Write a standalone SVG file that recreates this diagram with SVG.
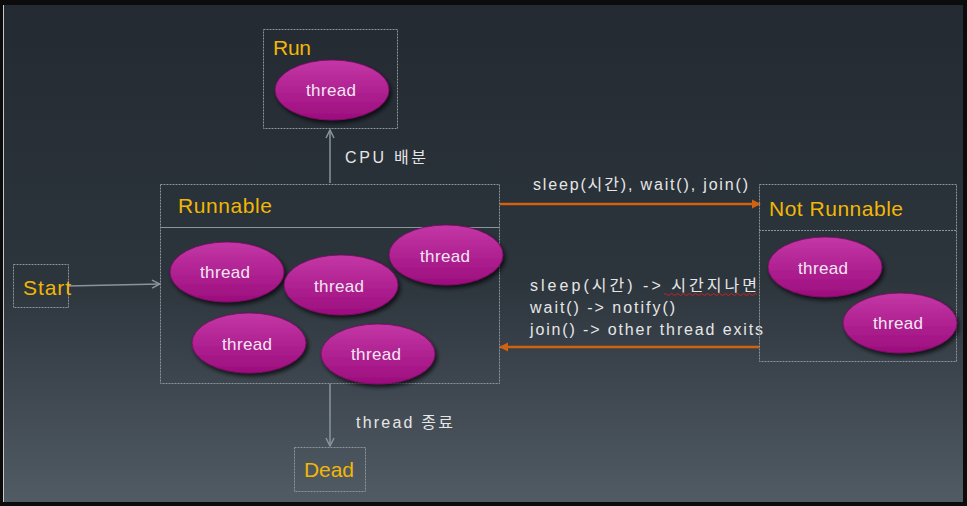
<svg xmlns="http://www.w3.org/2000/svg" width="967" height="506" viewBox="0 0 967 506">
<defs>
<linearGradient id="bg" x1="0" y1="0" x2="0" y2="1">
<stop offset="0" stop-color="#232a32"/>
<stop offset="0.55" stop-color="#2c343c"/>
<stop offset="1" stop-color="#525c65"/>
</linearGradient>
<linearGradient id="ell" x1="0" y1="0" x2="0" y2="1">
<stop offset="0" stop-color="#c437a6"/>
<stop offset="1" stop-color="#9c0d7e"/>
</linearGradient>
<filter id="sh" x="-20%" y="-20%" width="150%" height="160%">
<feGaussianBlur in="SourceAlpha" stdDeviation="2"/>
<feOffset dx="2" dy="3" result="b"/>
<feComponentTransfer><feFuncA type="linear" slope="0.7"/></feComponentTransfer>
<feMerge><feMergeNode/><feMergeNode in="SourceGraphic"/></feMerge>
</filter>
<marker id="ag" viewBox="0 0 10 10" refX="9" refY="5" markerWidth="10" markerHeight="10" markerUnits="userSpaceOnUse" orient="auto">
<path d="M1,1 L9,5 L1,9" fill="none" stroke="#8a949c" stroke-width="1.5"/>
</marker>
<marker id="ao" viewBox="0 0 10 10" refX="9" refY="5" markerWidth="9" markerHeight="10" markerUnits="userSpaceOnUse" orient="auto">
<path d="M0,0 L10,5 L0,10 Z" fill="#d2620f"/>
</marker>
</defs>
<style>
.box{fill:none;stroke:#8d959c;stroke-width:1;stroke-dasharray:2 1}
.div{stroke:#8d959c;stroke-width:1}
.title{font-family:"Liberation Sans","Noto Sans CJK KR",sans-serif;font-size:21px;fill:#f2b705}
.lbl{font-family:"Liberation Sans","Noto Sans CJK KR",sans-serif;font-size:16px;fill:#e6e6e6}
.th{font-family:"Liberation Sans",sans-serif;font-size:17px;fill:#f4e6f2;text-anchor:middle}
.e{fill:url(#ell);stroke:#7a0a62;stroke-width:0.8;filter:url(#sh)}
.cg{stroke:#8a949c;stroke-width:1.5;fill:none}
.co{stroke:#d2620f;stroke-width:2.5;fill:none}
</style>
<rect width="967" height="506" fill="url(#bg)"/>
<rect width="967" height="5" fill="#0c0c0c"/>
<rect y="502" width="967" height="4" fill="#0c0c0c"/>
<rect x="0" y="5" width="3" height="497" fill="#0c0c0c"/>
<line x1="3.5" y1="5" x2="3.5" y2="502" stroke="#c8c8c8" stroke-width="1"/>
<rect x="963" y="5" width="4" height="497" fill="#0c0c0c"/>

<g id="connectors">
<line class="cg" x1="330" y1="183" x2="330" y2="130" marker-end="url(#ag)"/>
<text class="lbl" x="345" y="163" textLength="81" lengthAdjust="spacing">CPU 배분</text>
<line class="cg" x1="68" y1="286" x2="160" y2="284" marker-end="url(#ag)"/>
<line class="cg" x1="330" y1="384" x2="330" y2="446" marker-end="url(#ag)"/>
<text class="lbl" x="356" y="428" textLength="97" lengthAdjust="spacing">thread  종료</text>
<line class="co" x1="500" y1="204" x2="760" y2="204" marker-end="url(#ao)"/>
<text class="lbl" x="533" y="190" textLength="215" lengthAdjust="spacing">sleep(시간),  wait(),  join()</text>
<line class="co" x1="759" y1="347" x2="500" y2="347" marker-end="url(#ao)"/>
<text class="lbl" x="530" y="291" textLength="227" lengthAdjust="spacing">sleep(시간)  -&gt;  시간지나면</text>
<path d="M664,294.5 q1.5,-2 3,0 t3,0 t3,0 t3,0 t3,0 t3,0 t3,0 t3,0 t3,0 t3,0 t3,0 t3,0 t3,0 t3,0 t3,0 t3,0 t3,0 t3,0 t3,0 t3,0 t3,0 t3,0 t3,0 t3,0 t3,0 t3,0 t3,0 t3,0 t3,0 t3,0 t3,0" fill="none" stroke="#d02020" stroke-width="1"/>
<text class="lbl" x="530" y="313" textLength="145" lengthAdjust="spacing">wait()  -&gt;  notify()</text>
<text class="lbl" x="530" y="335" textLength="233" lengthAdjust="spacing">join()  -&gt;  other  thread  exits</text>
</g>

<g id="run">
<rect class="box" x="263.5" y="29.5" width="134" height="99"/>
<text class="title" x="273" y="55" textLength="38" lengthAdjust="spacing">Run</text>
<ellipse class="e" cx="332" cy="90" rx="57" ry="30"/>
<text class="th" x="331" y="96" textLength="50" lengthAdjust="spacing">thread</text>
</g>

<g id="runnable">
<rect class="box" x="160.5" y="184.5" width="339" height="199"/>
<line class="div" x1="160" y1="227.5" x2="500" y2="227.5"/>
<text class="title" x="178" y="213" textLength="94" lengthAdjust="spacing">Runnable</text>
<ellipse class="e" cx="227" cy="272" rx="57" ry="30"/>
<text class="th" x="225" y="278" textLength="50" lengthAdjust="spacing">thread</text>
<ellipse class="e" cx="341" cy="285" rx="57" ry="30"/>
<text class="th" x="339" y="292" textLength="50" lengthAdjust="spacing">thread</text>
<ellipse class="e" cx="446" cy="255" rx="57" ry="30"/>
<text class="th" x="445" y="262" textLength="50" lengthAdjust="spacing">thread</text>
<ellipse class="e" cx="249" cy="343" rx="57" ry="30"/>
<text class="th" x="247" y="350" textLength="50" lengthAdjust="spacing">thread</text>
<ellipse class="e" cx="378" cy="354" rx="57" ry="30"/>
<text class="th" x="376" y="360" textLength="50" lengthAdjust="spacing">thread</text>
</g>

<g id="notrunnable">
<rect class="box" x="759.5" y="184.5" width="197" height="177"/>
<line class="div" x1="759" y1="230.5" x2="957" y2="230.5" stroke-dasharray="2 1"/>
<text class="title" x="769" y="216" textLength="134" lengthAdjust="spacing">Not Runnable</text>
<ellipse class="e" cx="825" cy="267" rx="57" ry="30"/>
<text class="th" x="823" y="274" textLength="50" lengthAdjust="spacing">thread</text>
<ellipse class="e" cx="900" cy="323" rx="57" ry="30"/>
<text class="th" x="898" y="329" textLength="50" lengthAdjust="spacing">thread</text>
</g>

<g id="start">
<rect class="box" x="13.5" y="264.5" width="55" height="43"/>
<text class="title" x="23" y="295" textLength="48" lengthAdjust="spacing">Start</text>
</g>

<g id="dead">
<rect class="box" x="294.5" y="447.5" width="71" height="44"/>
<text class="title" x="304" y="477" textLength="50" lengthAdjust="spacing">Dead</text>
</g>
</svg>
